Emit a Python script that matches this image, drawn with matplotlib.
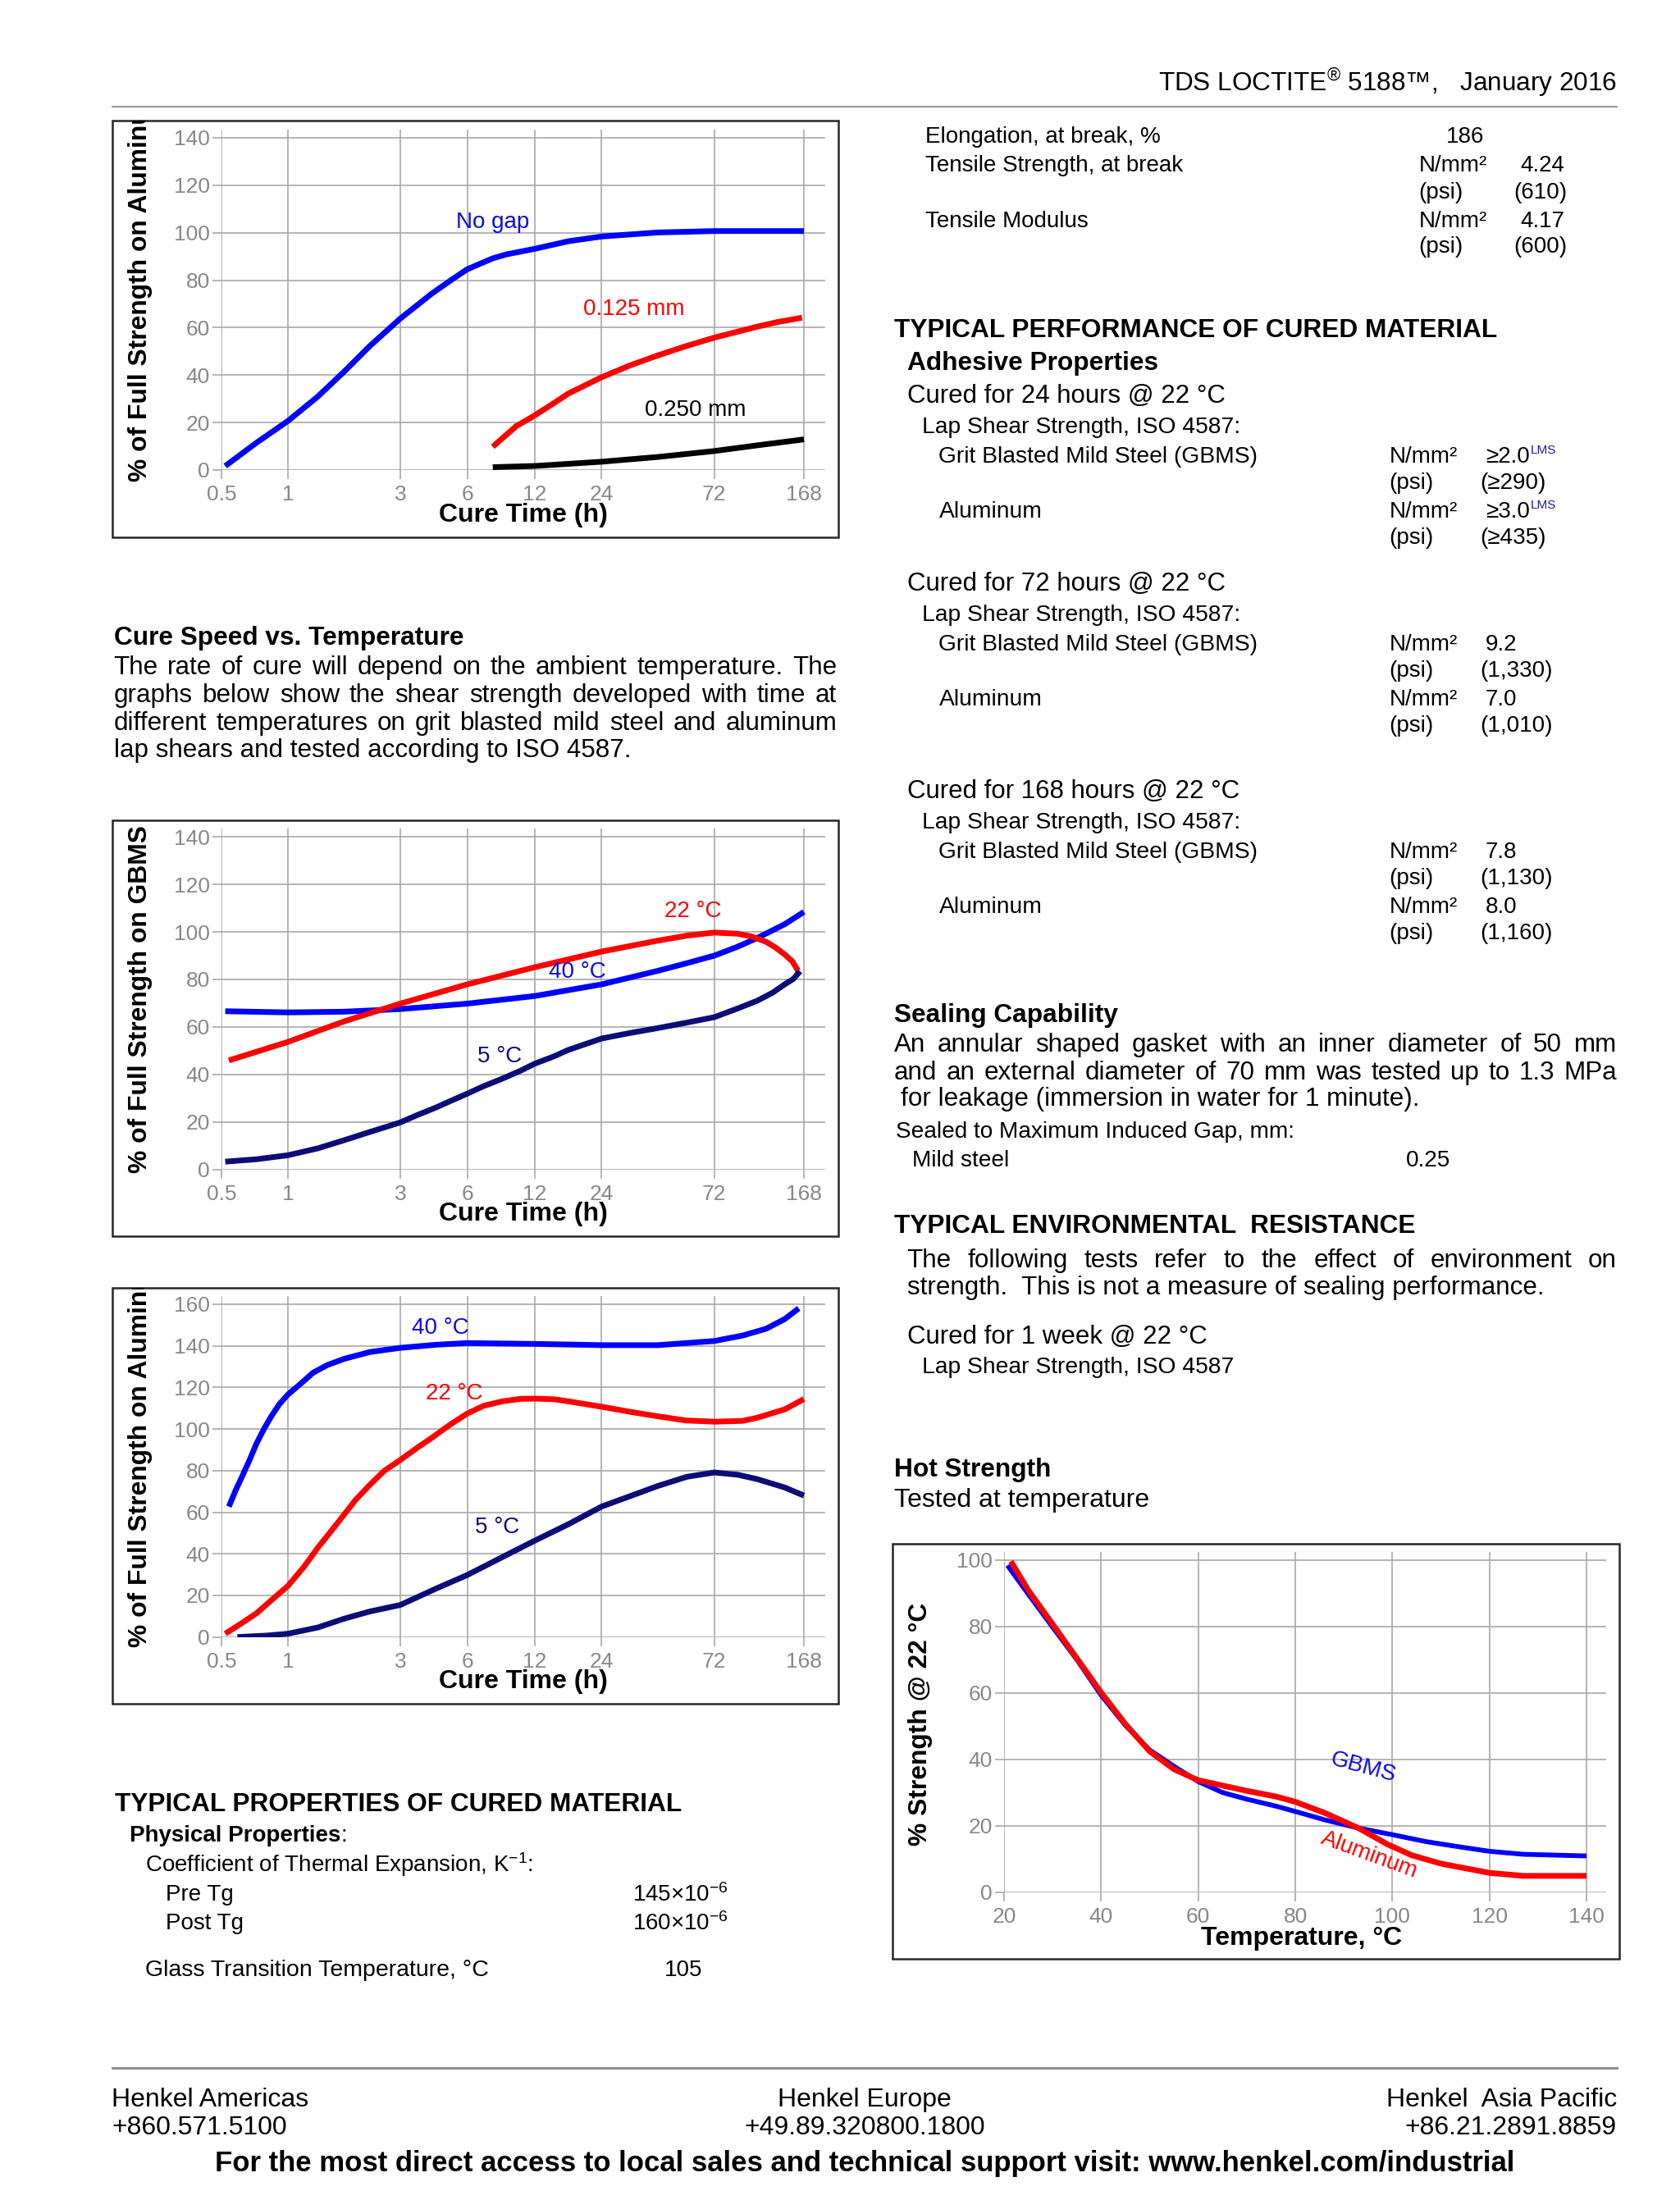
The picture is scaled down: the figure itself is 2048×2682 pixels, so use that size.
import matplotlib
matplotlib.use("Agg")
import matplotlib.pyplot as plt
import numpy as np
from matplotlib.patches import Rectangle
from matplotlib.lines import Line2D

plt.rcParams["font.family"] = ["Liberation Sans", "DejaVu Sans"]
plt.rcParams["mathtext.fontset"] = "custom"
plt.rcParams["mathtext.rm"] = "Liberation Sans"
plt.rcParams["mathtext.it"] = "Liberation Sans:italic"
plt.rcParams["mathtext.bf"] = "Liberation Sans:bold"

W, H = 2048, 2682

# ---- data -------------------------------------------------------------
TICK_HOURS = [0.5, 1, 3, 6, 12, 24, 72, 168]
TICK_LABELS = ["0.5", "1", "3", "6", "12", "24", "72", "168"]
TICK_POS = [0.0, 0.1142, 0.3069, 0.4219, 0.5377, 0.6526, 0.8462, 1.0]

# gap fill on aluminum
NOGAP_H = [0.52, 0.72, 1, 1.34, 1.73, 2.23, 3, 4.14, 5, 6, 7.8, 9, 12, 17, 24, 41.5, 72, 168]
NOGAP_V = [1.7, 11.5, 20.7, 31, 41.4, 52.3, 63.8, 74.2, 79.6, 84.6, 89.2, 90.9, 93.2, 96.4, 98.4, 100.1, 100.7, 100.7]
G125_H = [7.8, 9.9, 12, 14.65, 17, 24, 31.5, 41.5, 55, 72, 108, 130, 165]
G125_V = [9.8, 18.4, 23, 28.2, 32.2, 39.1, 44.0, 48.3, 52.3, 55.8, 60.4, 62.3, 64.2]
G250_H = [7.8, 12, 24, 41.5, 72, 108, 168]
G250_V = [1.2, 1.7, 3.5, 5.5, 8, 10.4, 12.9]

# cure speed vs temperature, GBMS
GB22_H = [0.54, 1, 1.73, 3, 6, 12, 24, 41.5, 55, 72, 90, 102.8, 118, 128.5, 140, 150.3, 159]
GB22_V = [45.9, 53.7, 62.3, 69.8, 77.9, 85.1, 91.7, 96.3, 98.4, 99.7, 99.2, 98.0, 95.7, 93.4, 90.5, 87.7, 83.6]
GB40_H = [0.52, 1, 1.73, 3, 6, 12, 24, 41.5, 55, 72, 90, 108, 140, 168]
GB40_V = [66.6, 66.1, 66.4, 67.5, 69.8, 73.0, 77.9, 83.6, 86.8, 90.0, 93.8, 97.4, 103.2, 108.4]
GB5_H = [0.52, 0.72, 1, 1.34, 1.73, 2.23, 3, 3.58, 4.35, 5.04, 6, 7.08, 8.6, 10.4, 12, 14.65,
         17, 24, 31.5, 41.5, 55, 72, 90, 108, 125, 140, 152, 162]
GB5_V = [3.3, 4.3, 6.0, 8.9, 12.3, 15.8, 19.8, 22.9, 26.1, 28.8, 31.9, 35.0, 38.2, 41.6, 44.5, 47.6,
         50.3, 55.1, 57.4, 59.5, 61.8, 64.1, 67.8, 71.0, 74.4, 77.9, 80.2, 83.4]

# cure speed vs temperature, aluminum
AL40_H = [0.54, 0.58, 0.62, 0.67, 0.72, 0.78, 0.84, 0.915, 1, 1.117, 1.28, 1.474, 1.73, 2.23, 3,
          4.35, 6, 12, 24, 41.5, 72, 94, 117.6, 140, 160]
AL40_V = [62.7, 70.6, 77.2, 85.1, 93.0, 100.2, 106.1, 112.0, 116.6, 121.2, 127.1, 130.8, 133.7, 137.0, 139.0,
          140.5, 141.3, 140.9, 140.3, 140.3, 142.3, 144.9, 148.2, 152.8, 158.0]
AL22_H = [0.52, 0.62, 0.72, 0.835, 1, 1.17, 1.34, 1.54, 1.73, 1.94, 2.23, 2.56, 3, 3.58, 4.14, 5.04, 6,
          7.08, 8.6, 10.4, 12, 14.65, 17, 24, 31.5, 41.5, 54.6, 72, 94, 108, 128.5, 140, 168]
AL22_V = [1.6, 6.8, 11.4, 17.4, 24.6, 33.8, 43.0, 51.5, 58.8, 66.0, 73.2, 79.8, 85.1, 91.0, 95.6, 102.2, 107.4,
          111.1, 113.3, 114.5, 114.6, 114.3, 113.3, 110.7, 108.3, 106.1, 104.1, 103.5, 103.9, 105.4, 108.1, 109.4, 114.4]
AL5_H = [0.59, 0.8, 1, 1.34, 1.73, 2.23, 3, 4.35, 6, 8.6, 12, 17, 24, 41.5, 55, 72, 90, 108, 140, 168]
AL5_V = [0, 0.7, 1.6, 4.6, 8.8, 12.3, 15.4, 23.3, 29.8, 38.4, 46.3, 54.2, 62.7, 72.6, 77.0, 79.1, 78.0, 75.9, 71.9, 68.0]

# hot strength
HOT_GBMS_T = [20.7, 25, 30, 35, 40, 45, 50, 55, 60, 65, 70, 76, 80, 86, 93, 100, 107, 114, 120, 127, 140]
HOT_GBMS_V = [98.4, 89.7, 79.8, 70.0, 59.3, 50.2, 42.8, 37.9, 33.3, 30.0, 28.0, 25.9, 24.3, 21.8, 19.3, 17.3, 15.2, 13.6, 12.3, 11.4, 10.9]
HOT_AL_T = [21.4, 25, 30, 35, 40, 45, 50, 55, 60, 65, 70, 76, 80, 86, 93, 99, 104, 110, 120, 127, 140]
HOT_AL_V = [99.6, 90.9, 80.7, 70.4, 60.1, 50.6, 42.4, 37.0, 33.7, 32.1, 30.5, 28.8, 27.2, 23.9, 19.3, 14.4, 11.1, 8.6, 5.8, 4.9, 4.9]

BLUE = "#0000ff"
BLUE_TXT = "#0a0ae6"
RED = "#ff0000"
NAVY = "#0c0c78"
GRID = "#a8a8a8"
TICKTXT = "#888888"
LW = 5.0
RIGHT = 1971


# ---- cure time axis: log between the printed ticks ------------------
def _seg_extrap(v, src, dst):
    out = np.interp(v, src, dst)
    lo = v < src[0]
    hi = v > src[-1]
    out = np.where(lo, dst[0] + (v - src[0]) * (dst[1] - dst[0]) / (src[1] - src[0]), out)
    out = np.where(hi, dst[-1] + (v - src[-1]) * (dst[-1] - dst[-2]) / (src[-1] - src[-2]), out)
    return out


def time_fwd(x):
    lx = np.log(np.clip(np.asarray(x, dtype=float), 1e-6, None))
    return _seg_extrap(lx, np.log(TICK_HOURS), np.asarray(TICK_POS))


def time_inv(u):
    u = np.asarray(u, dtype=float)
    return np.exp(_seg_extrap(u, np.asarray(TICK_POS), np.log(TICK_HOURS)))


fig = plt.figure(figsize=(W / 100, H / 100), dpi=100)
fig.patch.set_facecolor("white")


def put(x, y, s, size=20, weight="normal", ha="left", color="black", **kw):
    return fig.text(x / W, 1 - y / H, s, fontsize=size, fontweight=weight,
                    ha=ha, va="center", color=color, **kw)


def hline(x0, x1, y, color="#999999", lw=1.5):
    fig.add_artist(Line2D([x0 / W, x1 / W], [1 - y / H, 1 - y / H],
                          transform=fig.transFigure, color=color, lw=lw))


def frame(x0, y0, x1, y1):
    r = Rectangle((x0 / W, 1 - y1 / H), (x1 - x0) / W, (y1 - y0) / H,
                  transform=fig.transFigure, fill=False, lw=1.8, ec="#262626")
    fig.add_artist(r)
    return r


def justified(x0, x1, y, line, size=22.6):
    words = line.split()
    texts = [put(0, y, w, size=size) for w in words]
    renderer = fig.canvas.get_renderer()
    widths = [t.get_window_extent(renderer).width for t in texts]
    gap = (x1 - x0 - sum(widths)) / (len(words) - 1)
    x = x0
    for t, w in zip(texts, widths):
        t.set_position((x / W, 1 - y / H))
        x += w + gap


def make_axes(x0, y0, x1, y1):
    ax = fig.add_axes([x0 / W, 1 - y1 / H, (x1 - x0) / W, (y1 - y0) / H])
    ax.set_facecolor("none")
    for s in ax.spines.values():
        s.set_visible(False)
    ax.set_axisbelow(True)
    ax.grid(True, color=GRID, lw=1.2)
    ax.tick_params(axis="both", colors=GRID, labelcolor=TICKTXT, labelsize=19,
                   length=8, width=1.2, direction="out")
    ax.tick_params(axis="y", pad=2)
    ax.tick_params(axis="x", pad=5)
    return ax


def cure_axes(x0, y0, x1, y1, ymax, yticks):
    ax = make_axes(x0, y0, x1, y1)
    ax.set_xscale("function", functions=(time_fwd, time_inv))
    ax.set_xlim(0.5, float(time_inv((x1 - x0) / (980 - x0))))
    ax.set_xticks(TICK_HOURS)
    ax.set_xticklabels(TICK_LABELS)
    ax.set_ylim(0, ymax)
    ax.set_yticks(yticks)
    return ax


def curve(ax, x, y, color, lw=LW):
    ax.plot(x, y, color=color, lw=lw, solid_capstyle="butt", solid_joinstyle="round")


def ylabel(x, y, s, box, va="bottom"):
    t = fig.text(x / W, 1 - y / H, s, fontsize=22.9, fontweight="bold",
                 rotation=90, ha="center", va=va)
    t.set_clip_path(box)


# ---- header -----------------------------------------------------------
put(RIGHT, 100, "TDS LOCTITE$^{®}$ 5188™,   January 2016", size=22.7, ha="right")
hline(137, RIGHT, 129.5, color="#999999", lw=1.5)

# ---- chart 1: gap fill ------------------------------------------------
box1 = frame(137, 147, 1022, 655)
ax1 = cure_axes(270, 158, 1006, 573, 143.45, range(0, 141, 20))
curve(ax1, NOGAP_H, NOGAP_V, BLUE)
curve(ax1, G125_H, G125_V, RED)
curve(ax1, G250_H, G250_V, "black")
ax1.text(7.8, 104.5, "No gap", color=BLUE_TXT, fontsize=20, ha="center", va="center")
ax1.text(33, 67.9, "0.125 mm", color=RED, fontsize=20, ha="center", va="center")
ax1.text(60, 25.3, "0.250 mm", color="black", fontsize=20, ha="center", va="center")
ylabel(171.5, 587, "% of Full Strength on Aluminum", box1)
put(638, 628, "Cure Time (h)", size=23, weight="bold", ha="center")

# ---- cure speed text --------------------------------------------------
put(138.7, 778, "Cure Speed vs. Temperature", size=22.8, weight="bold")
justified(138.7, 1020, 814, "The rate of cure will depend on the ambient temperature. The")
justified(138.7, 1020, 848, "graphs below show the shear strength developed with time at")
justified(138.7, 1020, 882, "different temperatures on grit blasted mild steel and aluminum")
put(138.7, 915, "lap shears and tested according to ISO 4587.", size=22.6)

# ---- chart 2: GBMS ----------------------------------------------------
box2 = frame(137, 1000, 1022, 1507)
ax2 = cure_axes(270, 1010, 1006, 1425.7, 143.5, range(0, 141, 20))
curve(ax2, GB40_H, GB40_V, BLUE)
curve(ax2, GB22_H, GB22_V, RED)
curve(ax2, GB5_H, GB5_V, NAVY)
ax2.text(58.5, 108.7, "22 °C", color=RED, fontsize=20, ha="center", va="center")
ax2.text(18.7, 83, "40 °C", color=BLUE_TXT, fontsize=20, ha="center", va="center")
ax2.text(8.4, 47.4, "5 °C", color=NAVY, fontsize=20, ha="center", va="center")
ylabel(171.5, 1430, "% of Full Strength on GBMS", box2)
put(638, 1480, "Cure Time (h)", size=23, weight="bold", ha="center")

# ---- chart 3: aluminum ------------------------------------------------
box3 = frame(137, 1570, 1022, 2077)
ax3 = cure_axes(270, 1580, 1006, 1995.7, 163.9, range(0, 161, 20))
curve(ax3, AL40_H, AL40_V, BLUE)
curve(ax3, AL22_H, AL22_V, RED)
curve(ax3, AL5_H, AL5_V, NAVY)
ax3.text(4.56, 148.4, "40 °C", color=BLUE_TXT, fontsize=20, ha="center", va="center")
ax3.text(5.24, 116.9, "22 °C", color=RED, fontsize=20, ha="center", va="center")
ax3.text(8.2, 52.9, "5 °C", color=NAVY, fontsize=20, ha="center", va="center")
ylabel(171.5, 2008, "% of Full Strength on Aluminum", box3)
put(638, 2050, "Cure Time (h)", size=23, weight="bold", ha="center")

# ---- typical properties (left bottom) ----------------------------------
put(140.4, 2200, "TYPICAL PROPERTIES OF CURED MATERIAL", size=22.8, weight="bold")
put(157.7, 2238, "Physical Properties", size=20, weight="bold")
put(157.7 + 258, 2238, ":", size=20)
put(177.3, 2273, "Coefficient of Thermal Expansion, K$^{-1}$:", size=20)
put(202, 2310, "Pre Tg")
put(771, 2310, "145×10$^{-6}$")
put(202, 2345, "Post Tg")
put(771, 2345, "160×10$^{-6}$")
put(177.3, 2402, "Glass Transition Temperature, °C", size=20.5)
put(810, 2402, "105")

# ---- right column -----------------------------------------------------
put(1128.5, 166.5, "Elongation, at break, %")
put(1763, 166.5, "186")
put(1128.5, 202, "Tensile Strength, at break")
put(1729.5, 202, "N/mm²")
put(1853, 202, "4.24")
put(1729.5, 235, "(psi)")
put(1845.5, 235, "(610)")
put(1128.5, 270, "Tensile Modulus")
put(1729.5, 270, "N/mm²")
put(1853, 270, "4.17")
put(1729.5, 301, "(psi)")
put(1845.5, 301, "(600)")

put(1090, 402.6, "TYPICAL PERFORMANCE OF CURED MATERIAL", size=22.8, weight="bold")
put(1105.5, 443.5, "Adhesive Properties", size=22.8, weight="bold")

BLOCKS = [
    (483, "Cured for 24 hours @ 22 °C", ["≥2.0", "(≥290)", "≥3.0", "(≥435)"], True),
    (712, "Cured for 72 hours @ 22 °C", ["9.2", "(1,330)", "7.0", "(1,010)"], False),
    (965, "Cured for 168 hours @ 22 °C", ["7.8", "(1,130)", "8.0", "(1,160)"], False),
]
for y0, title, vals, lms in BLOCKS:
    put(1105.5, y0, title, size=22.5)
    put(1124, y0 + 38, "Lap Shear Strength, ISO 4587:", size=20.3)
    rows = [(y0 + 74, "Grit Blasted Mild Steel (GBMS)", "N/mm²", vals[0]),
            (y0 + 106, "", "(psi)", vals[1]),
            (y0 + 141, "Aluminum", "N/mm²", vals[2]),
            (y0 + 173, "", "(psi)", vals[3])]
    for i, (yy, lab, unit, val) in enumerate(rows):
        if lab:
            put(1144.5, yy, lab, size=20.3)
        put(1693.5, yy, unit)
        put(1811 if i % 2 == 0 else 1804, yy, val)
        if lms and i % 2 == 0:
            put(1866, yy - 8, "LMS", size=11, color="#1a1aa0")

put(1090, 1238, "Sealing Capability", size=22.8, weight="bold")
justified(1090, RIGHT, 1274, "An annular shaped gasket with an inner diameter of 50 mm")
justified(1090, RIGHT, 1308, "and an external diameter of 70 mm was tested up to 1.3 MPa")
put(1097.5, 1340, "for leakage (immersion in water for 1 minute).", size=22.6)
put(1092, 1380, "Sealed to Maximum Induced Gap, mm:", size=20.2)
put(1112.5, 1415, "Mild steel", size=20.2)
put(1714, 1415, "0.25", size=20.2)

put(1090, 1495, "TYPICAL ENVIRONMENTAL  RESISTANCE", size=22.8, weight="bold")
justified(1105.5, RIGHT, 1537, "The following tests refer to the effect of environment on")
put(1105.5, 1570, "strength.  This is not a measure of sealing performance.", size=22.6)
put(1105.5, 1630, "Cured for 1 week @ 22 °C", size=22.5)
put(1124, 1667, "Lap Shear Strength, ISO 4587", size=20.3)

put(1090, 1792, "Hot Strength", size=22.8, weight="bold")
put(1090, 1829, "Tested at temperature", size=23)

# ---- hot strength chart -----------------------------------------------
boxh = frame(1088, 1882, 1974, 2388)
axh = make_axes(1224, 1891.7, 1958, 2306.7)
axh.set_xlim(20, 20 + (1958 - 1224) / ((1934 - 1224) / 120))
axh.set_ylim(0, 102.5)
axh.set_xticks(range(20, 141, 20))
axh.set_yticks(range(0, 101, 20))
curve(axh, HOT_GBMS_T, HOT_GBMS_V, BLUE, lw=4.2)
curve(axh, HOT_AL_T, HOT_AL_V, RED, lw=5.0)
axh.text(94, 37.6, "GBMS", color=BLUE_TXT, fontsize=20, rotation=-15, ha="center", va="center")
axh.text(95.2, 11.1, "Aluminum", color=RED, fontsize=20, rotation=-20, ha="center", va="center")
ylabel(1122, 2101.7, "% Strength @ 22 °C", boxh, va="center")
put(1587, 2363, "Temperature, °C", size=23, weight="bold", ha="center")

# ---- footer -----------------------------------------------------------
hline(137, RIGHT, 2520.7, color="#8f8f8f", lw=2.2)
put(136, 2560, "Henkel Americas", size=23)
put(136, 2594, "+860.571.5100", size=23)
put(1054, 2560, "Henkel Europe", size=23, ha="center")
put(1054, 2594, "+49.89.320800.1800", size=23, ha="center")
put(RIGHT, 2560, "Henkel  Asia Pacific", size=23, ha="right")
put(RIGHT, 2594, "+86.21.2891.8859", size=23, ha="right")
put(1054, 2637, "For the most direct access to local sales and technical support visit: www.henkel.com/industrial",
    size=25, weight="bold", ha="center")

fig.savefig("out.png", dpi=100)
